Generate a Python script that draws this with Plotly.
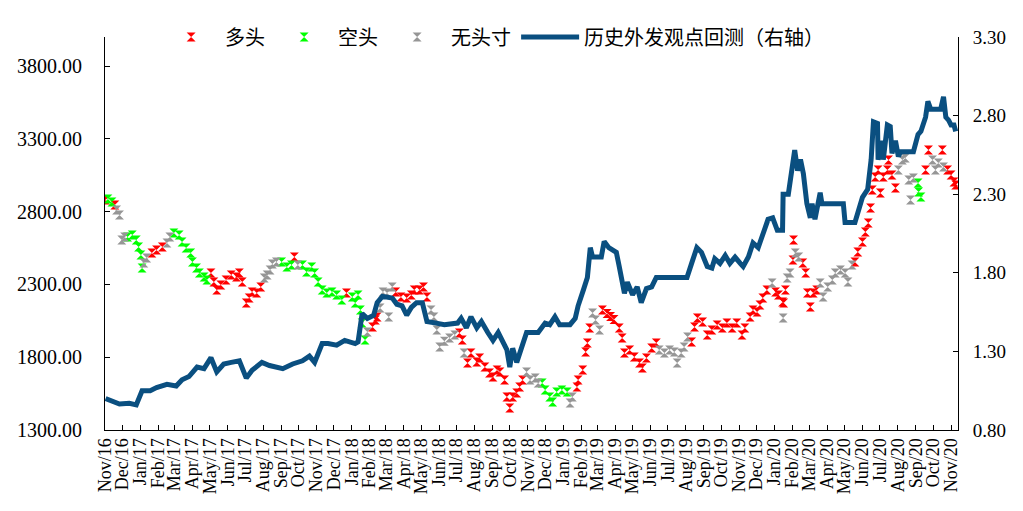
import plotly.graph_objects as go

# ---------------- data ----------------
price_dates = [
    "2016-11-02", "2016-11-06", "2016-11-13", "2016-11-18", "2016-11-21", "2016-11-26", "2016-11-30", "2016-12-05",
    "2016-12-10", "2016-12-18", "2016-12-25", "2016-12-29", "2017-01-02", "2017-01-04", "2017-01-07", "2017-01-12",
    "2017-01-21", "2017-01-29", "2017-02-08", "2017-02-16", "2017-02-21", "2017-02-28", "2017-03-09", "2017-03-14",
    "2017-03-21", "2017-03-29", "2017-04-01", "2017-04-08", "2017-04-13", "2017-04-21", "2017-04-26", "2017-05-03",
    "2017-05-08", "2017-05-13", "2017-05-20", "2017-05-29", "2017-06-07", "2017-06-16", "2017-06-21", "2017-06-26",
    "2017-07-03", "2017-07-08", "2017-07-13", "2017-07-21", "2017-07-28", "2017-08-03", "2017-08-08", "2017-08-13",
    "2017-08-17", "2017-08-24", "2017-09-02", "2017-09-11", "2017-09-19", "2017-09-24", "2017-09-30", "2017-10-08",
    "2017-10-15", "2017-10-24", "2017-10-29", "2017-11-04", "2017-11-11", "2017-11-19", "2017-11-28", "2017-12-06",
    "2017-12-15", "2017-12-23", "2018-01-02", "2018-01-07", "2018-01-12", "2018-01-16", "2018-01-19", "2018-01-24",
    "2018-01-28", "2018-02-06", "2018-02-11", "2018-02-14", "2018-02-19", "2018-02-24", "2018-03-03", "2018-03-06",
    "2018-03-12", "2018-03-18", "2018-03-27", "2018-04-06", "2018-04-14", "2018-04-19", "2018-04-28", "2018-05-05",
    "2018-05-11", "2018-05-18", "2018-05-23", "2018-05-28", "2018-06-02", "2018-06-10", "2018-06-19", "2018-06-28",
    "2018-07-06", "2018-07-11", "2018-07-14", "2018-07-20", "2018-07-26", "2018-08-05", "2018-08-10", "2018-08-19",
    "2018-08-27", "2018-09-02", "2018-09-09", "2018-09-14", "2018-09-22", "2018-09-26", "2018-10-01", "2018-10-06",
    "2018-10-13", "2018-10-18", "2018-10-23", "2018-10-30", "2018-11-05", "2018-11-14", "2018-11-19", "2018-11-26",
    "2018-12-01", "2018-12-09", "2018-12-14", "2018-12-21", "2018-12-30", "2019-01-08", "2019-01-13", "2019-01-17",
    "2019-01-25", "2019-01-27", "2019-02-04", "2019-02-09", "2019-02-12", "2019-02-16", "2019-02-21", "2019-02-26",
    "2019-03-05", "2019-03-10", "2019-03-18", "2019-03-24", "2019-03-30", "2019-04-08", "2019-04-13", "2019-04-17",
    "2019-04-26", "2019-05-04", "2019-05-13", "2019-05-18", "2019-05-25", "2019-06-03", "2019-06-11", "2019-06-16",
    "2019-06-25", "2019-07-04", "2019-07-12", "2019-07-17", "2019-07-24", "2019-07-29", "2019-08-04", "2019-08-11",
    "2019-08-16", "2019-08-21", "2019-08-30", "2019-09-07", "2019-09-15", "2019-09-24", "2019-10-03", "2019-10-11",
    "2019-10-20", "2019-10-28", "2019-11-06", "2019-11-11", "2019-11-20", "2019-11-25", "2019-12-02", "2019-12-07",
    "2019-12-12", "2019-12-19", "2019-12-28", "2020-01-03", "2020-01-08", "2020-01-15", "2020-01-16", "2020-01-17",
    "2020-01-20", "2020-01-23", "2020-01-28", "2020-02-02", "2020-02-03", "2020-02-06", "2020-02-12", "2020-02-19",
    "2020-02-24", "2020-02-27", "2020-03-03", "2020-03-08", "2020-03-14", "2020-03-20", "2020-03-25", "2020-04-02",
    "2020-04-10", "2020-04-15", "2020-04-24", "2020-05-02", "2020-05-07", "2020-05-14", "2020-05-19", "2020-05-24",
    "2020-06-01", "2020-06-06", "2020-06-11", "2020-06-15", "2020-06-18", "2020-06-23", "2020-06-28", "2020-07-02",
    "2020-07-07", "2020-07-14", "2020-07-16", "2020-07-22", "2020-07-28", "2020-08-02", "2020-08-09", "2020-08-14",
    "2020-08-20", "2020-08-23", "2020-08-28", "2020-09-05", "2020-09-06", "2020-09-10", "2020-09-18", "2020-09-23",
    "2020-09-30", "2020-10-05", "2020-10-10", "2020-10-17", "2020-10-19", "2020-10-26", "2020-11-01", "2020-11-06",
    "2020-11-09",
]
price_values = [
    2880, 2887, 2866, 2846, 2811, 2777, 2605, 2626,
    2626, 2640, 2605, 2557, 2502, 2413, 2447, 2482,
    2516, 2537, 2557, 2585, 2626, 2653, 2640, 2592,
    2550, 2516, 2454, 2413, 2379, 2351, 2331, 2379,
    2317, 2262, 2296, 2331, 2365, 2351, 2379, 2317,
    2172, 2207, 2248, 2241, 2282, 2344, 2365, 2400,
    2440, 2454, 2454, 2420, 2434, 2489, 2434, 2434,
    2386, 2420, 2379, 2317, 2262, 2241, 2248, 2227,
    2193, 2241, 2214, 2172, 2227, 2124, 2035, 1918,
    1973, 2008, 2056, 2076, 2138, 2248, 2241, 2076,
    2282, 2248, 2214, 2207, 2227, 2262, 2262, 2282,
    2214, 2124, 2076, 1987, 1870, 1910, 1932, 1953,
    1966, 1918, 1829, 1760, 1829, 1767, 1795, 1733,
    1692, 1664, 1712, 1698, 1643, 1527, 1451, 1527,
    1554, 1595, 1643, 1698, 1643, 1657, 1623, 1623,
    1575, 1527, 1492, 1561, 1575, 1561, 1485, 1527,
    1595, 1643, 1712, 1836, 1898, 2001, 2104, 2056,
    1987, 2124, 2100, 2080, 2060, 2001, 1932, 1829,
    1850, 1802, 1760, 1726, 1795, 1863, 1898, 1850,
    1829, 1850, 1836, 1760, 1829, 1870, 1939, 1905,
    2008, 2069, 2042, 1953, 1987, 2021, 2001, 2035,
    2001, 2035, 1953, 2001, 2076, 2124, 2111, 2159,
    2207, 2262, 2310, 2248, 2227, 2179, 2069, 2172,
    2262, 2344, 2379, 2468, 2605, 2516, 2489, 2447,
    2379, 2241, 2145, 2241, 2262, 2310, 2214, 2282,
    2331, 2379, 2399, 2379, 2317, 2434, 2454, 2523,
    2592, 2660, 2722, 2825, 2949, 3038, 3086, 2928,
    3038, 3086, 3155, 3052, 2963, 3086, 3155, 3169,
    3018, 2880, 3031, 2997, 2935, 2901, 3086, 3224,
    3155, 3086, 3134, 3224, 3107, 3086, 3052, 3004,
    2983,
]
# L = 多头, S = 空头, N = 无头寸
price_state = list(
    "LSSLNNNN" "SSSSSSNN" "LLLNNSSS" "SSSSSSSL" "LLLLLLLL" "LLLLLNNN"
    "NNSSSLNS" "SSSSSSSS" "SLSSSSSS" "NLLLNNNN" "NLLLLLLL" "LNNNNNNN"
    "LLNLLLLL" "LLLLLLLL" "LLLNNNNS" "SSSSSSNN" "LLLLLLNN" "NLLLLLLL"
    "LLLLLLLN" "NNNNNNNL" "LLLLLLLL" "LLLLLLLL" "LLNLLLNL" "LNNLLNNL"
    "LLLLLNNN" "NNNNNNLL" "LLLLLLLL" "LLLLLNNN" "NNNSSSLL" "NNNLNLLL"
    "L"
)

backtest_dates = [
    "2016-11-02", "2016-11-14", "2016-11-26", "2016-12-13", "2016-12-25", "2017-01-04", "2017-01-18", "2017-01-29",
    "2017-02-16", "2017-03-04", "2017-03-14", "2017-03-26", "2017-04-09", "2017-04-21", "2017-05-03", "2017-05-13",
    "2017-05-25", "2017-06-07", "2017-06-21", "2017-07-03", "2017-07-13", "2017-07-30", "2017-08-12", "2017-09-04",
    "2017-09-21", "2017-10-08", "2017-10-20", "2017-10-29", "2017-11-11", "2017-11-21", "2017-12-06", "2017-12-20",
    "2018-01-07", "2018-01-12", "2018-01-19", "2018-01-28", "2018-02-08", "2018-02-14", "2018-02-23", "2018-03-12",
    "2018-03-20", "2018-03-29", "2018-04-06", "2018-04-14", "2018-04-23", "2018-05-03", "2018-05-11", "2018-05-27",
    "2018-06-10", "2018-07-03", "2018-07-09", "2018-07-18", "2018-07-26", "2018-08-05", "2018-08-13", "2018-08-24",
    "2018-09-02", "2018-09-11", "2018-09-19", "2018-09-26", "2018-10-01", "2018-10-06", "2018-10-13", "2018-10-21",
    "2018-10-30", "2018-11-19", "2018-12-01", "2018-12-09", "2018-12-18", "2018-12-26", "2019-01-13", "2019-01-22",
    "2019-01-27", "2019-02-05", "2019-02-12", "2019-02-17", "2019-02-21", "2019-03-08", "2019-03-13", "2019-03-21",
    "2019-03-26", "2019-04-03", "2019-04-08", "2019-04-17", "2019-04-22", "2019-05-01", "2019-05-09", "2019-05-16",
    "2019-05-25", "2019-06-03", "2019-06-11", "2019-06-21", "2019-08-03", "2019-08-11", "2019-08-20", "2019-08-28",
    "2019-09-07", "2019-09-15", "2019-09-20", "2019-09-29", "2019-10-08", "2019-10-16", "2019-10-25", "2019-11-03",
    "2019-11-08", "2019-11-17", "2019-11-25", "2019-12-04", "2019-12-12", "2019-12-21", "2019-12-29", "2020-01-06",
    "2020-01-15", "2020-01-16", "2020-01-25", "2020-02-02", "2020-02-05", "2020-02-10", "2020-02-15", "2020-02-20",
    "2020-02-26", "2020-03-03", "2020-03-06", "2020-03-11", "2020-03-20", "2020-03-23", "2020-04-29", "2020-05-02",
    "2020-05-19", "2020-06-01", "2020-06-10", "2020-06-16", "2020-06-20", "2020-06-27", "2020-06-28", "2020-07-05",
    "2020-07-07", "2020-07-14", "2020-07-19", "2020-07-22", "2020-07-28", "2020-08-02", "2020-08-06", "2020-08-28",
    "2020-09-05", "2020-09-10", "2020-09-18", "2020-09-22", "2020-09-27", "2020-10-14", "2020-10-19", "2020-10-23",
    "2020-10-28", "2020-11-01", "2020-11-06", "2020-11-09",
]
backtest_values = [
    1.00, 0.98, 0.965, 0.97, 0.96, 1.05, 1.05, 1.07,
    1.09, 1.08, 1.12, 1.14, 1.20, 1.19, 1.26, 1.17,
    1.22, 1.23, 1.24, 1.13, 1.18, 1.23, 1.21, 1.19,
    1.22, 1.24, 1.27, 1.23, 1.35, 1.35, 1.34, 1.37,
    1.35, 1.36, 1.54, 1.51, 1.53, 1.61, 1.65, 1.64,
    1.60, 1.59, 1.53, 1.58, 1.61, 1.61, 1.49, 1.48,
    1.47, 1.48, 1.51, 1.45, 1.52, 1.45, 1.49, 1.42,
    1.37, 1.42, 1.36, 1.31, 1.20, 1.32, 1.23, 1.33,
    1.42, 1.42, 1.48, 1.47, 1.52, 1.47, 1.47, 1.51,
    1.59, 1.69, 1.77, 1.96, 1.90, 1.90, 2.00, 1.96,
    1.95, 1.93, 1.84, 1.67, 1.74, 1.66, 1.71, 1.61,
    1.70, 1.71, 1.77, 1.77, 1.77, 1.86, 1.96, 1.93,
    1.84, 1.83, 1.89, 1.86, 1.91, 1.86, 1.90, 1.86,
    1.84, 1.90, 1.99, 1.96, 2.05, 2.14, 2.15, 2.07,
    2.07, 2.30, 2.30, 2.47, 2.58, 2.45, 2.52, 2.43,
    2.24, 2.15, 2.24, 2.14, 2.31, 2.24, 2.24, 2.12,
    2.12, 2.28, 2.33, 2.52, 2.76, 2.75, 2.52, 2.64,
    2.52, 2.74, 2.73, 2.56, 2.64, 2.54, 2.57, 2.57,
    2.68, 2.70, 2.79, 2.89, 2.84, 2.84, 2.92, 2.79,
    2.77, 2.74, 2.74, 2.70,
]

left_ticks = [1300, 1800, 2300, 2800, 3300, 3800]
right_ticks = [0.80, 1.30, 1.80, 2.30, 2.80, 3.30]

state_names = {"L": "多头", "S": "空头", "N": "无头寸"}
state_colors = {"L": "#FF0000", "S": "#00FF00", "N": "#969696"}
line_name = "历史外发观点回测（右轴）"

# ---------------- figure ----------------
fig = go.Figure()
for key in ["L", "S", "N"]:
    xs = [d for d, s in zip(price_dates, price_state) if s == key]
    ys = [v for v, s in zip(price_values, price_state) if s == key]
    fig.add_trace(go.Scatter(
        x=xs, y=ys, mode="markers", name=state_names[key],
        marker=dict(symbol="hourglass", size=9, color=state_colors[key]),
    ))

fig.add_trace(go.Scatter(
    x=backtest_dates, y=backtest_values, yaxis="y2", mode="lines", name=line_name,
    line=dict(color="#0A4F80", width=5),
))

serif = "Liberation Serif, Times New Roman, serif"
axis_common = dict(showline=True, linecolor="black", linewidth=1, showgrid=False,
                   zeroline=False, ticks="inside", ticklen=5, tickcolor="black")

fig.update_layout(
    width=1023, height=511,
    margin=dict(l=105, r=65, t=37, b=81),
    plot_bgcolor="white", paper_bgcolor="white",
    legend=dict(orientation="h", x=0.455, xanchor="center", y=1.0, yanchor="middle",
                itemwidth=58,
                font=dict(family="Noto Sans CJK SC", size=20, color="black"),
                bgcolor="rgba(0,0,0,0)"),
    xaxis=dict(type="date", range=["2016-11-01", "2020-11-13"], dtick="M1", tick0="2016-11-01",
               tickformat="%b/%y", tickangle=-90,
               tickfont=dict(family=serif, size=18, color="black"), **axis_common),
    yaxis=dict(range=[1300, 4000], tickvals=left_ticks, tickformat=".2f",
               tickfont=dict(family=serif, size=20, color="black"), ticklabelstandoff=18,
               **axis_common),
    yaxis2=dict(overlaying="y", side="right", range=[0.8, 3.3], tickvals=right_ticks,
                tickformat=".2f", tickfont=dict(family=serif, size=19, color="black"),
                ticklabelstandoff=10, **axis_common),
)

fig.write_html("out.html")
